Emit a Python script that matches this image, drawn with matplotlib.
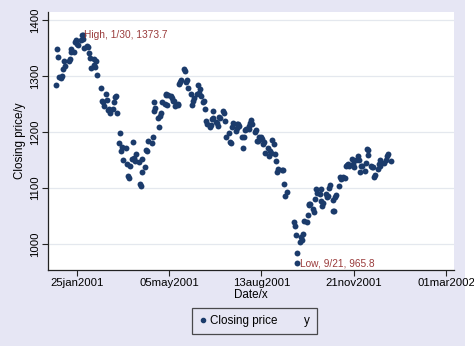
import datetime
import matplotlib
matplotlib.use('Agg')
import matplotlib.pyplot as plt
import matplotlib.dates as mdates
from matplotlib.lines import Line2D

# S&P 500 daily closes, 2001 (day of month, close) per month
jan_days = [2, 3, 4, 5, 8, 9, 10, 11, 12, 16, 17, 18, 19, 22, 23, 24, 25, 26, 29, 30, 31]
jan_close = [1283.3, 1347.6, 1333.3, 1298.4, 1295.9, 1300.8, 1313.3, 1326.8, 1318.6, 1326.7, 1329.5,
             1348.0, 1342.5, 1342.9, 1360.4, 1364.3, 1357.5, 1355.0, 1364.2, 1373.7, 1366.0]
feb_days = [1, 2, 5, 6, 7, 8, 9, 12, 13, 14, 15, 16, 20, 21, 22, 23, 26, 27, 28]
feb_close = [1373.5, 1349.5, 1354.3, 1352.3, 1340.9, 1332.5, 1314.8, 1330.3, 1318.8, 1315.9, 1326.6,
             1301.5, 1278.9, 1255.3, 1252.8, 1245.9, 1267.7, 1257.9, 1239.9]
mar_days = [1, 2, 5, 6, 7, 8, 9, 12, 13, 14, 15, 16, 19, 20, 21, 22, 23, 26, 27, 28, 29, 30]
mar_close = [1241.2, 1234.2, 1241.4, 1253.8, 1261.9, 1264.7, 1233.4, 1180.2, 1197.7, 1166.7, 1173.6,
             1150.5, 1170.8, 1142.6, 1122.1, 1117.6, 1139.8, 1152.7, 1182.2, 1153.3, 1148.0, 1160.3]
apr_days = [2, 3, 4, 5, 6, 9, 10, 11, 12, 16, 17, 18, 19, 20, 23, 24, 25, 26, 27, 30]
apr_close = [1145.9, 1106.5, 1103.3, 1151.4, 1128.4, 1137.6, 1168.4, 1165.9, 1183.5, 1179.7, 1191.8,
             1238.2, 1253.7, 1243.0, 1224.4, 1209.5, 1228.8, 1234.5, 1253.1, 1249.5]
may_days = [1, 2, 3, 4, 7, 8, 9, 10, 11, 14, 15, 16, 17, 18, 21, 22, 23, 24, 25, 29, 30, 31]
may_close = [1266.4, 1267.4, 1248.6, 1266.6, 1263.5, 1261.2, 1255.5, 1255.2, 1245.7, 1248.9, 1249.4,
             1285.0, 1288.5, 1292.0, 1312.8, 1309.4, 1289.1, 1293.2, 1277.9, 1267.9, 1248.1, 1255.8]
jun_days = [1, 4, 5, 6, 7, 8, 11, 12, 13, 14, 15, 18, 19, 20, 21, 22, 25, 26, 27, 28, 29]
jun_close = [1260.7, 1267.1, 1283.6, 1270.0, 1277.0, 1265.0, 1254.4, 1255.9, 1241.6, 1219.9, 1214.4,
             1208.4, 1212.6, 1223.1, 1237.0, 1225.4, 1218.6, 1216.8, 1211.1, 1226.2, 1224.4]
jul_days = [2, 3, 5, 6, 9, 10, 11, 12, 13, 16, 17, 18, 19, 20, 23, 24, 25, 26, 27, 30, 31]
jul_close = [1236.7, 1234.5, 1219.2, 1190.6, 1198.8, 1181.5, 1180.2, 1208.1, 1215.7, 1202.5, 1214.4,
             1207.7, 1215.0, 1210.9, 1191.0, 1171.7, 1190.5, 1202.9, 1205.8, 1204.5, 1211.2]
aug_days = [1, 2, 3, 6, 7, 8, 9, 10, 13, 14, 15, 16, 17, 20, 21, 22, 23, 24, 27, 28, 29, 30, 31]
aug_close = [1215.9, 1220.8, 1214.4, 1200.5, 1204.4, 1183.5, 1183.4, 1190.2, 1191.3, 1186.7, 1178.0,
             1181.7, 1162.0, 1171.4, 1157.3, 1165.3, 1162.1, 1184.9, 1179.2, 1161.5, 1148.6, 1129.0, 1133.6]
sep_days = [4, 5, 6, 7, 10, 17, 18, 19, 20, 21, 24, 25, 26, 27, 28]
sep_close = [1132.9, 1131.7, 1106.4, 1085.8, 1092.5, 1038.8, 1032.7, 1016.1, 984.5, 965.8,
             1003.5, 1012.3, 1007.0, 1018.6, 1040.9]
oct_days = [1, 2, 3, 4, 5, 8, 9, 10, 11, 12, 15, 16, 17, 18, 19, 22, 23, 24, 25, 26, 29, 30, 31]
oct_close = [1038.6, 1051.3, 1072.3, 1069.6, 1071.4, 1062.4, 1056.8, 1081.0, 1097.4, 1091.7, 1090.0,
             1097.5, 1077.1, 1068.6, 1073.5, 1089.9, 1084.8, 1085.2, 1100.1, 1104.6, 1078.3, 1059.8, 1059.8]
nov_days = [1, 2, 5, 6, 7, 8, 9, 12, 13, 14, 15, 16, 19, 20, 21, 23, 26, 27, 28, 29, 30]
nov_close = [1084.1, 1087.2, 1102.8, 1118.9, 1115.8, 1118.5, 1120.3, 1118.3, 1139.1, 1141.2, 1142.2,
             1138.7, 1151.1, 1142.7, 1137.0, 1150.3, 1157.4, 1149.5, 1128.5, 1140.2, 1139.5]
dec_days = [3, 4, 5, 6, 7, 10, 11, 12, 13, 14, 17, 18, 19, 20, 21, 24, 26, 27, 28, 31]
dec_close = [1129.9, 1144.8, 1170.4, 1167.1, 1158.3, 1139.9, 1136.8, 1137.1, 1119.4, 1123.1, 1134.4,
             1142.9, 1149.6, 1139.9, 1144.9, 1144.7, 1149.4, 1157.1, 1161.0, 1148.1]

months = [(jan_days, jan_close), (feb_days, feb_close), (mar_days, mar_close), (apr_days, apr_close),
          (may_days, may_close), (jun_days, jun_close), (jul_days, jul_close), (aug_days, aug_close),
          (sep_days, sep_close), (oct_days, oct_close), (nov_days, nov_close), (dec_days, dec_close)]

tick_dates = [datetime.date(2001, 1, 25), datetime.date(2001, 5, 5), datetime.date(2001, 8, 13),
              datetime.date(2001, 11, 21), datetime.date(2002, 3, 1)]
y_ticks = [1000, 1100, 1200, 1300, 1400]

high_label = 'High, 1/30, 1373.7'
low_label = 'Low, 9/21, 965.8'

dates = []
close = []
for m, (days, vals) in enumerate(months):
  for d, v in zip(days, vals):
    dates.append(mdates.date2num(datetime.date(2001, m + 1, d)))
    close.append(v)

bg = '#E6E6F4'
navy = '#1B3B6B'
red = '#9A3B3B'
font = 'Liberation Sans'

fig = plt.figure(figsize=(4.74, 3.48), dpi=100)
fig.patch.set_facecolor('white')
# graph region (lavender), white strip at right/bottom edge
fig.patches.append(plt.Rectangle((0, 2/348), 465/474, 346/348, transform=fig.transFigure,
                                 facecolor=bg, edgecolor='none', zorder=-10))

ax = fig.add_axes([48/474, 78/348, 406/474, 258/348])
ax.set_facecolor('white')
ax.scatter(dates, close, s=18, color=navy, linewidths=0, zorder=3)

i_hi = close.index(max(close))
i_lo = close.index(min(close))
ax.annotate(high_label, (dates[i_hi], close[i_hi]), xytext=(2, 0), textcoords='offset points',
            ha='left', va='center', color=red, fontsize=7.3, family=font)
ax.annotate(low_label, (dates[i_lo], close[i_lo]), xytext=(2, 0), textcoords='offset points',
            ha='left', va='center', color=red, fontsize=7.3, family=font)

ax.set_xlim(mdates.date2num(datetime.date(2000, 12, 25)) - 0.4,
            mdates.date2num(datetime.date(2002, 3, 9)) + 0.7)
ax.set_ylim(953.6, 1414.3)

ax.set_xticks([mdates.date2num(t) for t in tick_dates])
ax.set_xticklabels([t.strftime('%d%b%Y').lower() for t in tick_dates], fontsize=8.2, family=font)
ax.set_yticks(y_ticks)
ax.set_yticklabels([str(v) for v in y_ticks], fontsize=8.2, family=font, rotation=90, va='center')
ax.grid(axis='y', color='#E4E8EE', linewidth=0.9)
ax.set_axisbelow(True)
ax.tick_params(length=4, width=0.8, color='#222222', pad=2)

for s in ['top', 'right']:
  ax.spines[s].set_visible(False)
for s in ['left', 'bottom']:
  ax.spines[s].set_color('#222222')
  ax.spines[s].set_linewidth(0.9)

ax.set_ylabel('Closing price/y', fontsize=8.4, family=font, labelpad=3)
ax.set_xlabel('Date/x', fontsize=8.4, family=font, labelpad=0.5)

h1 = Line2D([], [], marker='o', linestyle='none', markersize=3, color=navy)
h2 = Line2D([], [], linestyle='none')
leg = fig.legend([h1, h2], ['Closing price', 'y'], loc='center', bbox_to_anchor=(254.5/474, 1 - 321/348),
                 ncol=2, prop={'family': font, 'size': 8.4}, frameon=True, fancybox=False,
                 handlelength=0.6, handletextpad=0.35, columnspacing=1.3, borderpad=0.6)
leg.get_frame().set_facecolor(bg)
leg.get_frame().set_edgecolor('#222222')
leg.get_frame().set_linewidth(0.9)

fig.savefig('out.png', dpi=100, facecolor=fig.get_facecolor())
